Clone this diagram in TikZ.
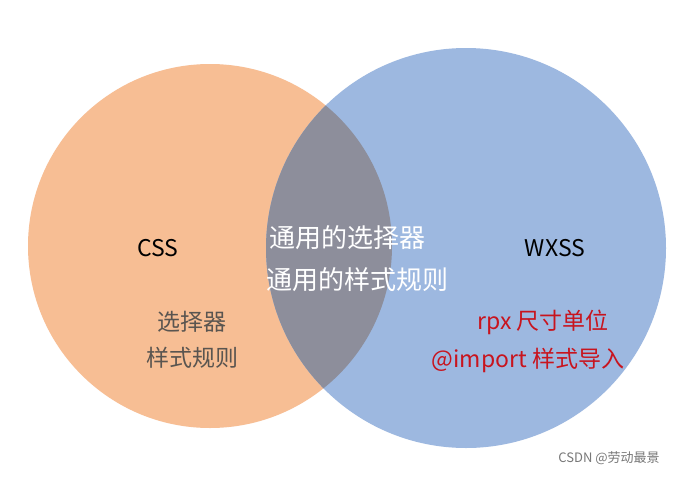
\documentclass[tikz,border=0pt]{standalone}
\usepackage{fontspec}
\setmainfont{Noto Sans CJK SC}
\begin{document}
\begin{tikzpicture}[x=1pt,y=-1pt,
  lbl/.style={font=\fontsize{23}{26}\selectfont},
  big/.style={font=\fontsize{26}{30}\selectfont},
  red/.style={font=\fontsize{23}{26}\selectfont,text={rgb,255:red,200;green,20;blue,30}}]
\definecolor{orangec}{RGB}{247,190,148}
\definecolor{bluec}{RGB}{157,184,224}
\definecolor{grayc}{RGB}{141,142,155}
\useasboundingbox (0,0) rectangle (693,477);
\fill[white] (0,0) rectangle (693,477);
\fill[orangec] (210,246) circle (182);
\fill[bluec] (466,248) circle (200);
\begin{scope}
\clip (210,246) circle (182);
\fill[grayc] (466,248) circle (200);
\end{scope}
\node[lbl] (css) at (158,248) {CSS};
\node[lbl,text={rgb,255:red,90;green,85;blue,80}] (s1) at (192,322) {选择器};
\node[lbl,text={rgb,255:red,90;green,85;blue,80}] (s2) at (192,358) {样式规则};
\node[big,text=white] (c1) at (347,238) {通用的选择器};
\node[big,text=white] (c2) at (357,280) {通用的样式规则};
\node[lbl] (wx) at (555,248) {WXSS};
\node[red] (r1) at (543,322) {rpx 尺寸单位};
\node[red] (r2) at (528,360) {@import 样式导入};
\node[font=\fontsize{13}{15}\selectfont,text={rgb,255:red,120;green,120;blue,120}] (wm) at (609,458) {CSDN @劳动最景};
\end{tikzpicture}
\end{document}
